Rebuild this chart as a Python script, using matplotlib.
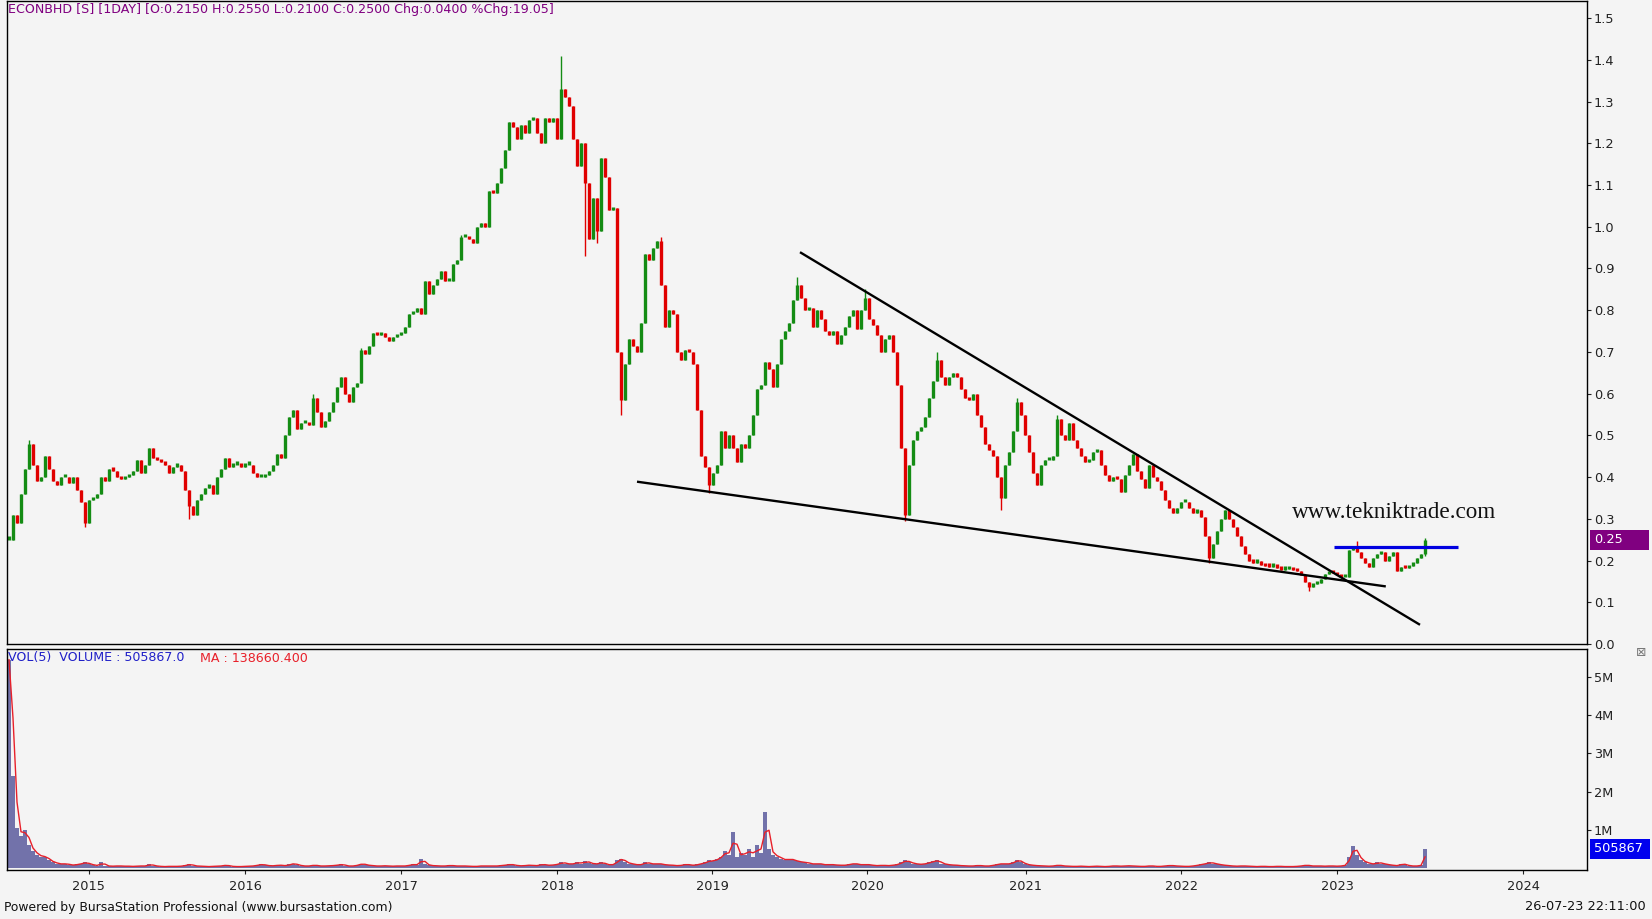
#!/usr/bin/env python3
"""ECONBHD daily chart (BursaStation style) with falling wedge trend lines."""

import numpy as np
import pandas as pd
import matplotlib
matplotlib.use("Agg")
import matplotlib.pyplot as plt
import matplotlib.transforms as mtransforms
from matplotlib.patches import Rectangle

plt.rcParams['font.family'] = ['DejaVu Sans']

BG = '#f4f4f4'
UP = '#148c14'
DOWN = '#e00000'

# price closes, one candle per slot
closes = [
    0.25, 0.31, 0.29, 0.36, 0.42, 0.48, 0.43, 0.39, 0.40, 0.45,
    0.42, 0.39, 0.38, 0.40, 0.40, 0.385, 0.40, 0.37, 0.34, 0.29,
    0.345, 0.35, 0.36, 0.40, 0.39, 0.42, 0.415, 0.40, 0.395, 0.40,
    0.405, 0.415, 0.44, 0.41, 0.43, 0.47, 0.445, 0.44, 0.435, 0.43,
    0.41, 0.425, 0.43, 0.415, 0.37, 0.33, 0.31, 0.345, 0.36, 0.375,
    0.38, 0.36, 0.40, 0.42, 0.445, 0.425, 0.43, 0.43, 0.425, 0.43,
    0.43, 0.41, 0.40, 0.40, 0.405, 0.415, 0.43, 0.455, 0.445, 0.50,
    0.545, 0.56, 0.515, 0.53, 0.53, 0.525, 0.59, 0.555, 0.52, 0.535,
    0.555, 0.58, 0.615, 0.64, 0.60, 0.58, 0.615, 0.625, 0.705, 0.695,
    0.715, 0.745, 0.74, 0.745, 0.735, 0.725, 0.735, 0.74, 0.745, 0.76,
    0.79, 0.795, 0.805, 0.79, 0.87, 0.84, 0.86, 0.875, 0.895, 0.87,
    0.87, 0.91, 0.92, 0.975, 0.975, 0.97, 0.96, 1.0, 1.01, 1.0,
    1.085, 1.08, 1.105, 1.14, 1.185, 1.25, 1.24, 1.21, 1.245, 1.225,
    1.255, 1.26, 1.225, 1.20, 1.26, 1.25, 1.26, 1.21, 1.33, 1.31,
    1.29, 1.21, 1.145, 1.20, 1.105, 0.97, 1.07, 0.99, 1.165, 1.12,
    1.04, 1.045, 0.70, 0.585, 0.67, 0.73, 0.715, 0.70, 0.77, 0.935,
    0.92, 0.95, 0.965, 0.86, 0.76, 0.80, 0.79, 0.70, 0.68, 0.705,
    0.70, 0.67, 0.56, 0.45, 0.425, 0.38, 0.41, 0.43, 0.51, 0.47,
    0.50, 0.47, 0.435, 0.48, 0.47, 0.50, 0.55, 0.61, 0.62, 0.675,
    0.66, 0.615, 0.67, 0.73, 0.75, 0.77, 0.825, 0.86, 0.83, 0.80,
    0.805, 0.76, 0.80, 0.78, 0.75, 0.74, 0.75, 0.72, 0.74, 0.76,
    0.785, 0.80, 0.755, 0.80, 0.83, 0.78, 0.765, 0.74, 0.70, 0.73,
    0.74, 0.70, 0.62, 0.47, 0.31, 0.43, 0.49, 0.51, 0.52, 0.545,
    0.59, 0.63, 0.68, 0.64, 0.62, 0.64, 0.65, 0.64, 0.61, 0.59,
    0.585, 0.60, 0.55, 0.52, 0.48, 0.465, 0.45, 0.40, 0.35, 0.43,
    0.46, 0.51, 0.58, 0.55, 0.50, 0.46, 0.41, 0.38, 0.43, 0.44,
    0.44, 0.45, 0.54, 0.50, 0.49, 0.53, 0.49, 0.47, 0.45, 0.435,
    0.44, 0.46, 0.465, 0.43, 0.405, 0.39, 0.40, 0.395, 0.365, 0.405,
    0.43, 0.455, 0.415, 0.395, 0.375, 0.43, 0.40, 0.39, 0.37, 0.345,
    0.325, 0.315, 0.325, 0.34, 0.34, 0.325, 0.315, 0.32, 0.305, 0.26,
    0.205, 0.24, 0.27, 0.30, 0.32, 0.30, 0.28, 0.26, 0.235, 0.215,
    0.20, 0.195, 0.198, 0.19, 0.187, 0.185, 0.19, 0.183, 0.178, 0.18,
    0.182, 0.177, 0.174, 0.165, 0.148, 0.137, 0.143, 0.147, 0.155, 0.168,
    0.172, 0.17, 0.165, 0.16, 0.16, 0.225, 0.23, 0.22, 0.205, 0.195,
    0.185, 0.205, 0.215, 0.22, 0.20, 0.21, 0.22, 0.175, 0.185, 0.182,
    0.188, 0.195, 0.205, 0.215, 0.25,
]

# wick extremes that stick out beyond the bodies
hi_idx = [5, 76, 88, 113, 138, 163, 197, 214, 232, 252, 262, 337, 354]
hi_val = [0.49, 0.60, 0.71, 0.98, 1.41, 0.975, 0.88, 0.85, 0.70, 0.59, 0.55, 0.247, 0.255]
lo_idx = [19, 45, 144, 147, 153, 175, 224, 248, 300, 325, 354]
lo_val = [0.28, 0.30, 0.93, 0.96, 0.55, 0.362, 0.295, 0.32, 0.195, 0.127, 0.21]

# volume in millions, same slots
volume = [
    5.45, 2.4, 1.05, 0.85, 1.0, 0.6, 0.45, 0.35, 0.3, 0.3, 0.2, 0.15, 0.12, 0.1, 0.12, 0.08, 0.08, 0.1, 0.12, 0.15,
    0.1, 0.08, 0.06, 0.15, 0.06, 0.05, 0.05, 0.06, 0.05, 0.05, 0.05, 0.04, 0.06, 0.05, 0.06, 0.1, 0.06, 0.05, 0.04, 0.04,
    0.05, 0.04, 0.05, 0.05, 0.08, 0.1, 0.06, 0.05, 0.05, 0.04, 0.04, 0.05, 0.05, 0.06, 0.08, 0.05, 0.04, 0.04, 0.04, 0.05,
    0.05, 0.06, 0.08, 0.1, 0.07, 0.06, 0.06, 0.08, 0.07, 0.06, 0.1, 0.12, 0.08, 0.06, 0.05, 0.06, 0.08, 0.06, 0.05, 0.06,
    0.06, 0.07, 0.08, 0.1, 0.06, 0.05, 0.06, 0.08, 0.12, 0.08, 0.07, 0.06, 0.05, 0.06, 0.06, 0.05, 0.05, 0.06, 0.05, 0.06,
    0.08, 0.1, 0.08, 0.25, 0.1, 0.07, 0.06, 0.06, 0.05, 0.06, 0.07, 0.06, 0.05, 0.06, 0.05, 0.05, 0.04, 0.05, 0.06, 0.05,
    0.06, 0.05, 0.06, 0.07, 0.08, 0.1, 0.08, 0.06, 0.06, 0.07, 0.08, 0.06, 0.07, 0.1, 0.08, 0.07, 0.09, 0.1, 0.15, 0.12,
    0.1, 0.12, 0.15, 0.12, 0.18, 0.14, 0.1, 0.12, 0.15, 0.1, 0.08, 0.1, 0.2, 0.25, 0.15, 0.12, 0.1, 0.08, 0.1, 0.15,
    0.12, 0.1, 0.12, 0.1, 0.08, 0.08, 0.07, 0.06, 0.08, 0.1, 0.08, 0.07, 0.1, 0.12, 0.15, 0.2, 0.18, 0.25, 0.3, 0.45,
    0.35, 0.95, 0.3, 0.4, 0.35, 0.5, 0.3, 0.6, 0.4, 1.48, 0.5, 0.35, 0.3, 0.25, 0.2, 0.25, 0.2, 0.18, 0.15, 0.15,
    0.12, 0.1, 0.12, 0.1, 0.08, 0.1, 0.08, 0.08, 0.07, 0.08, 0.1, 0.12, 0.1, 0.08, 0.1, 0.08, 0.07, 0.06, 0.08, 0.06,
    0.07, 0.08, 0.1, 0.15, 0.2, 0.15, 0.12, 0.1, 0.1, 0.12, 0.15, 0.18, 0.2, 0.12, 0.1, 0.08, 0.08, 0.07, 0.06, 0.06,
    0.05, 0.06, 0.07, 0.06, 0.05, 0.06, 0.08, 0.1, 0.12, 0.1, 0.12, 0.15, 0.22, 0.15, 0.1, 0.08, 0.07, 0.06, 0.06, 0.05,
    0.05, 0.06, 0.08, 0.06, 0.05, 0.05, 0.04, 0.05, 0.05, 0.04, 0.04, 0.05, 0.05, 0.04, 0.04, 0.05, 0.06, 0.05, 0.05, 0.06,
    0.06, 0.05, 0.05, 0.04, 0.05, 0.06, 0.05, 0.04, 0.05, 0.06, 0.07, 0.06, 0.05, 0.05, 0.04, 0.05, 0.06, 0.08, 0.1, 0.12,
    0.15, 0.12, 0.1, 0.08, 0.07, 0.06, 0.05, 0.05, 0.06, 0.05, 0.05, 0.04, 0.04, 0.05, 0.04, 0.04, 0.04, 0.05, 0.04, 0.04,
    0.04, 0.04, 0.05, 0.06, 0.08, 0.06, 0.05, 0.06, 0.05, 0.05, 0.06, 0.05, 0.05, 0.06, 0.08, 0.3, 0.58, 0.35, 0.2, 0.15,
    0.12, 0.1, 0.15, 0.12, 0.1, 0.08, 0.07, 0.06, 0.12, 0.08, 0.06, 0.05, 0.06, 0.08, 0.506,
]

year_labels = ['2015', '2016', '2017', '2018', '2019', '2020', '2021', '2022', '2023', '2024']
year_pos = [19.9, 59.1, 98, 137, 175.75, 214.5, 254.25, 293, 332, 378.5]

# drawn trend lines (slot, price)
upper_x, upper_y = [197.75, 352.75], [0.939, 0.046]
lower_x, lower_y = [157.0, 344.2], [0.389, 0.138]
resist_x, resist_y = [331.25, 362.2], [0.232, 0.232]

last_price = 0.25
last_vol = 505867

# ---------------------------------------------------------------
c = np.array(closes)
n = len(c)
x = np.arange(n)
o = np.r_[c[0], c[:-1]]
hi = np.maximum(o, c)
lo = np.minimum(o, c)
hi[hi_idx] = np.maximum(hi[hi_idx], hi_val)
lo[lo_idx] = np.minimum(lo[lo_idx], lo_val)
cols = np.where(c >= o, UP, DOWN)

W, H = 1652, 919
fig = plt.figure(figsize=(W / 100, H / 100), dpi=100, facecolor=BG)
ax = fig.add_axes([7 / W, 1 - 644 / H, 1580 / W, 643 / H], facecolor=BG)
axv = fig.add_axes([7 / W, 1 - 870 / H, 1580 / W, 221 / H], facecolor=BG)

xlim = (-0.5, 394.5)
TICK_FS = 9.3
TEXT_FS = 9.1

# candles: thin wick + body (bodies get a minimum height so flat weeks still show)
body_lo = np.minimum(o, c)
body_hi = np.maximum(np.maximum(o, c), body_lo + 0.008)
ax.vlines(x, lo, hi, colors=cols, linewidth=1.0)
ax.vlines(x, body_lo, body_hi, colors=cols, linewidth=2.4)

ax.plot(upper_x, upper_y, color='black', lw=1.7, solid_capstyle='butt')
ax.plot(lower_x, lower_y, color='black', lw=1.7, solid_capstyle='butt')
ax.plot(resist_x, resist_y, color='#0000e0', lw=2.3, solid_capstyle='butt')

ax.text(346.2, 0.316, 'www.tekniktrade.com', family='Liberation Serif',
        fontsize=16.7, ha='center', va='center', color='#111111')

ax.set_xlim(*xlim)
ax.set_ylim(0, 1.541)
ax.set_xticks([])
ax.yaxis.tick_right()
ax.set_yticks(np.arange(0, 1.51, 0.1))
ax.set_yticklabels([f'{v:.1f}' for v in np.arange(0, 1.51, 0.1)])
ax.tick_params(axis='y', length=3, width=0.8, pad=2, labelsize=TICK_FS, colors='#222222')
for s in ax.spines.values():
    s.set_linewidth(1.0)
    s.set_color('black')

tr = mtransforms.blended_transform_factory(ax.transAxes, ax.transData)
ax.add_patch(Rectangle((1.002, last_price - 0.024), 0.0375, 0.048, transform=tr,
                       facecolor='#800080', edgecolor='none', clip_on=False))
ax.text(1.0045, last_price, f'{last_price:.2f}', transform=tr, color='white',
        fontsize=TICK_FS, va='center', ha='left')

# volume
vol = np.array(volume)
ma = pd.Series(vol).rolling(2, min_periods=1).mean().values
axv.bar(x, vol, width=0.9, color='#7272aa', linewidth=0)
axv.plot(x, ma, color='#e8202a', lw=1.0)
axv.set_xlim(*xlim)
axv.set_ylim(-0.05, 5.73)
axv.yaxis.tick_right()
axv.set_yticks([1, 2, 3, 4, 5])
axv.set_yticklabels(['1M', '2M', '3M', '4M', '5M'])
axv.set_xticks(year_pos)
axv.set_xticklabels(year_labels)
axv.tick_params(axis='y', length=3, width=0.8, pad=2, labelsize=TICK_FS, colors='#222222')
axv.tick_params(axis='x', length=3, width=0.8, pad=4, labelsize=TICK_FS, colors='#222222')
for s in axv.spines.values():
    s.set_linewidth(1.0)
    s.set_color('black')

trv = mtransforms.blended_transform_factory(axv.transAxes, axv.transData)
axv.add_patch(Rectangle((1.002, last_vol / 1e6 - 0.26), 0.038, 0.52, transform=trv,
                        facecolor='#0000ee', edgecolor='none', clip_on=False))
axv.text(1.0045, last_vol / 1e6, f'{last_vol}', transform=trv, color='white',
         fontsize=TICK_FS, va='center', ha='left')

# header / footer texts
fig.text(8 / W, 1 - 9 / H,
         'ECONBHD [S] [1DAY] [O:0.2150 H:0.2550 L:0.2100 C:0.2500 Chg:0.0400 %Chg:19.05]',
         color='#800080', fontsize=TEXT_FS, va='center', ha='left')
fig.text(8 / W, 1 - 658 / H, 'VOL(5)  VOLUME : 505867.0', color='#2020c8',
         fontsize=TEXT_FS, va='center', ha='left')
fig.text(200 / W, 1 - 658 / H, 'MA : 138660.400', color='#e8202a',
         fontsize=TEXT_FS, va='center', ha='left')
fig.text(4 / W, 1 - 907 / H, 'Powered by BursaStation Professional (www.bursastation.com)',
         color='#111111', fontsize=8.9, va='center', ha='left')
fig.text(1646 / W, 1 - 907 / H, '26-07-23 22:11:00', color='#111111',
         fontsize=TICK_FS, va='center', ha='right')
fig.text(1641 / W, 1 - 652 / H, '\u22a0', color='#777777', fontsize=9,
         va='center', ha='center')

fig.savefig('out.png', dpi=100, facecolor=BG)
